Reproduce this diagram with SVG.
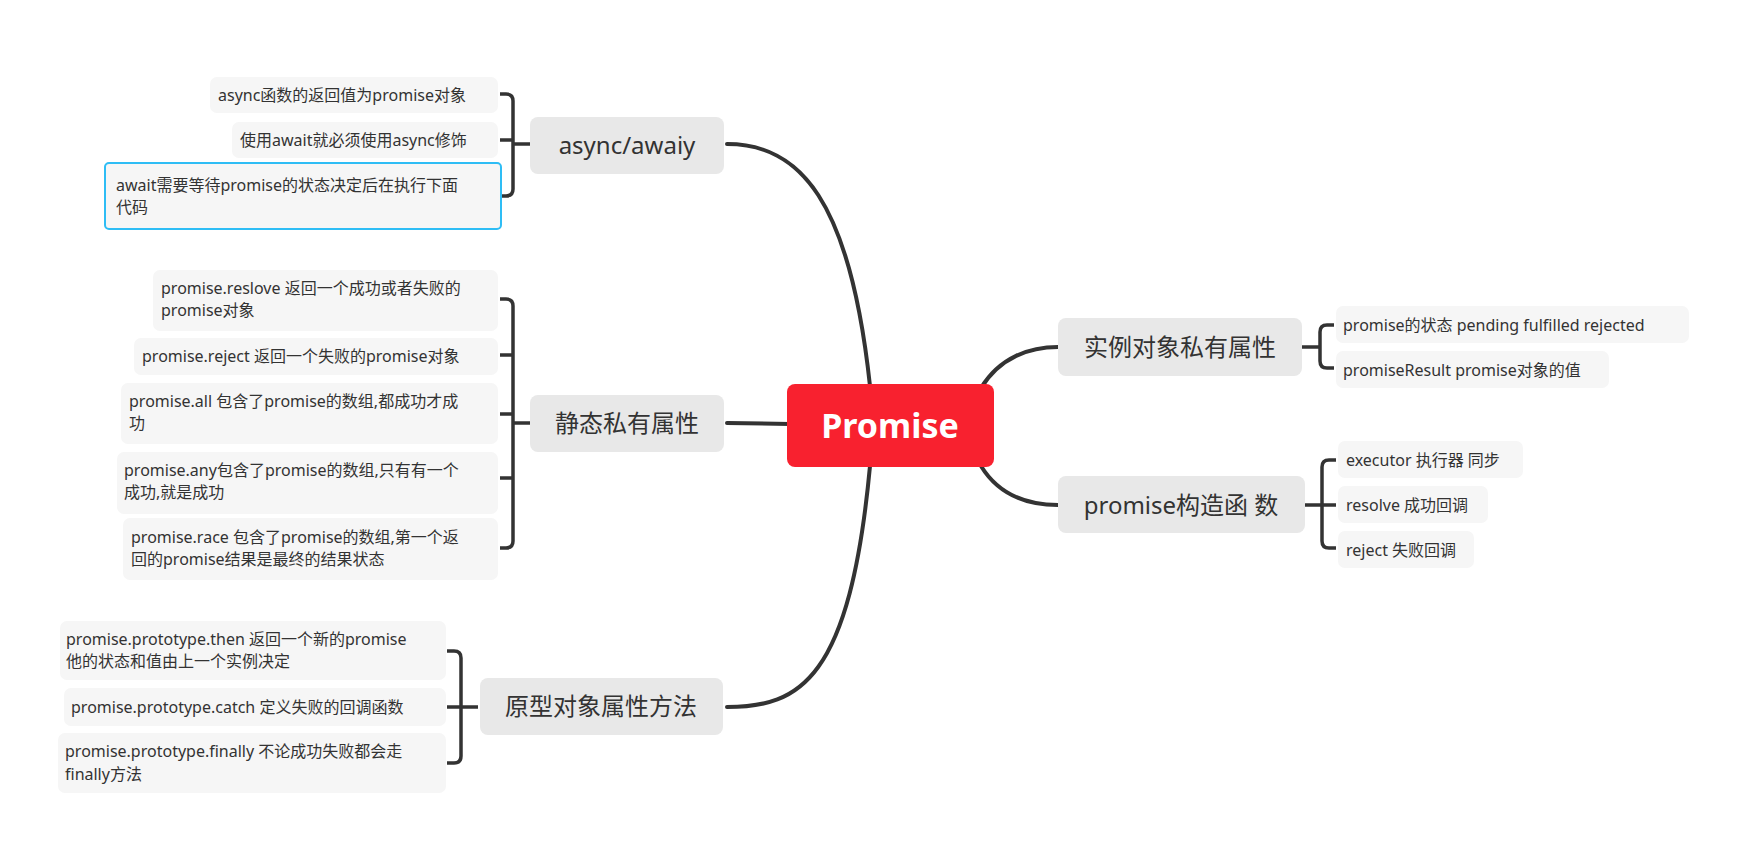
<svg xmlns="http://www.w3.org/2000/svg" width="1746" height="855" viewBox="0 0 1746 855">
<style>
text{font-family:"Noto Sans","Noto Sans CJK SC",sans-serif;fill:#333}
.leaf rect{fill:#f6f6f6}
.leaf text{font-size:16px}
.br rect{fill:#e8e8e8}
.br text{font-size:24px;text-anchor:middle}
.c{fill:none;stroke:#333;stroke-width:4;stroke-linecap:round}
.b{fill:none;stroke:#333;stroke-width:3.5}
</style>
<rect width="1746" height="855" fill="#fff"/>
<g id="connectors">
<path class="c" d="M870 386 C850 200 800 144 727 144"/>
<path class="c" d="M790 424 L727 423"/>
<path class="c" d="M870 466 C850 680 800 707 727 707"/>
<path class="c" d="M981 388 C1000 357 1030 347 1058 347"/>
<path class="c" d="M981 466 C1000 497 1030 505 1058 505"/>
<path class="b" d="M500 94 H506 Q513 94 513 101 V189 Q513 196 506 196 H500 M500 140 H513 M513 144 H531"/>
<path class="b" d="M500 299 H506 Q513 299 513 306 V541 Q513 548 506 548 H500 M500 355 H513 M500 414 H513 M500 478 H513 M513 423 H531"/>
<path class="b" d="M447 651 H454 Q461 651 461 658 V756 Q461 763 454 763 H447 M447 707 H478"/>
<path class="b" d="M1334 325 H1327 Q1320 325 1320 332 V361 Q1320 368 1327 368 H1334 M1302 347 H1320"/>
<path class="b" d="M1336 460 H1329 Q1322 460 1322 467 V541 Q1322 548 1329 548 H1336 M1305 505 H1336"/>
</g>
<g id="root"><rect x="787" y="384" width="207" height="83" rx="8" fill="#f8212f"/><text x="890" y="438" font-size="34" font-weight="bold" text-anchor="middle" style="fill:#fff">Promise</text></g>
<g id="n-async" class="br"><rect x="530" y="117" width="194" height="57" rx="8"/><text x="627" y="154">async/awaiy</text></g>
<g id="n-static" class="br"><rect x="530" y="395" width="194" height="57" rx="8"/><text x="627" y="432">静态私有属性</text></g>
<g id="n-proto" class="br"><rect x="480" y="678" width="243" height="57" rx="8"/><text x="601" y="715">原型对象属性方法</text></g>
<g id="n-inst" class="br"><rect x="1058" y="318" width="244" height="58" rx="8"/><text x="1180" y="356">实例对象私有属性</text></g>
<g id="n-ctor" class="br"><rect x="1058" y="476" width="247" height="57" rx="8"/><text x="1181" y="514">promise构造函 数</text></g>
<g id="a1" class="leaf"><rect x="210" y="77" width="288" height="36" rx="7"/><text x="218" y="101">async函数的返回值为promise对象</text></g>
<g id="a2" class="leaf"><rect x="232" y="122" width="266" height="36" rx="7"/><text x="240" y="146">使用await就必须使用async修饰</text></g>
<g id="a3" class="leaf"><rect x="105" y="163" width="396" height="66" rx="4" stroke="#2ebdf5" stroke-width="2"/><text x="116" y="191">await需要等待promise的状态决定后在执行下面</text><text x="116" y="213">代码</text></g>
<g id="s1" class="leaf"><rect x="153" y="270" width="345" height="61" rx="7"/><text x="161" y="294">promise.reslove 返回一个成功或者失败的</text><text x="161" y="316">promise对象</text></g>
<g id="s2" class="leaf"><rect x="134" y="338" width="364" height="37" rx="7"/><text x="142" y="362">promise.reject 返回一个失败的promise对象</text></g>
<g id="s3" class="leaf"><rect x="121" y="383" width="377" height="61" rx="7"/><text x="129" y="407">promise.all 包含了promise的数组,都成功才成</text><text x="129" y="429">功</text></g>
<g id="s4" class="leaf"><rect x="117" y="452" width="381" height="62" rx="7"/><text x="124" y="476">promise.any包含了promise的数组,只有有一个</text><text x="124" y="498">成功,就是成功</text></g>
<g id="s5" class="leaf"><rect x="123" y="518" width="375" height="62" rx="7"/><text x="131" y="543">promise.race 包含了promise的数组,第一个返</text><text x="131" y="565">回的promise结果是最终的结果状态</text></g>
<g id="p1" class="leaf"><rect x="60" y="621" width="386" height="59" rx="7"/><text x="66" y="645">promise.prototype.then 返回一个新的promise</text><text x="66" y="667">他的状态和值由上一个实例决定</text></g>
<g id="p2" class="leaf"><rect x="64" y="688" width="382" height="38" rx="7"/><text x="71" y="713">promise.prototype.catch 定义失败的回调函数</text></g>
<g id="p3" class="leaf"><rect x="58" y="733" width="388" height="60" rx="7"/><text x="65" y="757">promise.prototype.finally 不论成功失败都会走</text><text x="65" y="780">finally方法</text></g>
<g id="i1" class="leaf"><rect x="1336" y="306" width="353" height="37" rx="7"/><text x="1343" y="331">promise的状态  pending fulfilled rejected</text></g>
<g id="i2" class="leaf"><rect x="1336" y="351" width="273" height="37" rx="7"/><text x="1343" y="376">promiseResult promise对象的值</text></g>
<g id="c1" class="leaf"><rect x="1338" y="441" width="185" height="37" rx="7"/><text x="1346" y="466">executor 执行器 同步</text></g>
<g id="c2" class="leaf"><rect x="1338" y="486" width="150" height="37" rx="7"/><text x="1346" y="511">resolve 成功回调</text></g>
<g id="c3" class="leaf"><rect x="1338" y="531" width="136" height="37" rx="7"/><text x="1346" y="556">reject 失败回调</text></g>
</svg>
